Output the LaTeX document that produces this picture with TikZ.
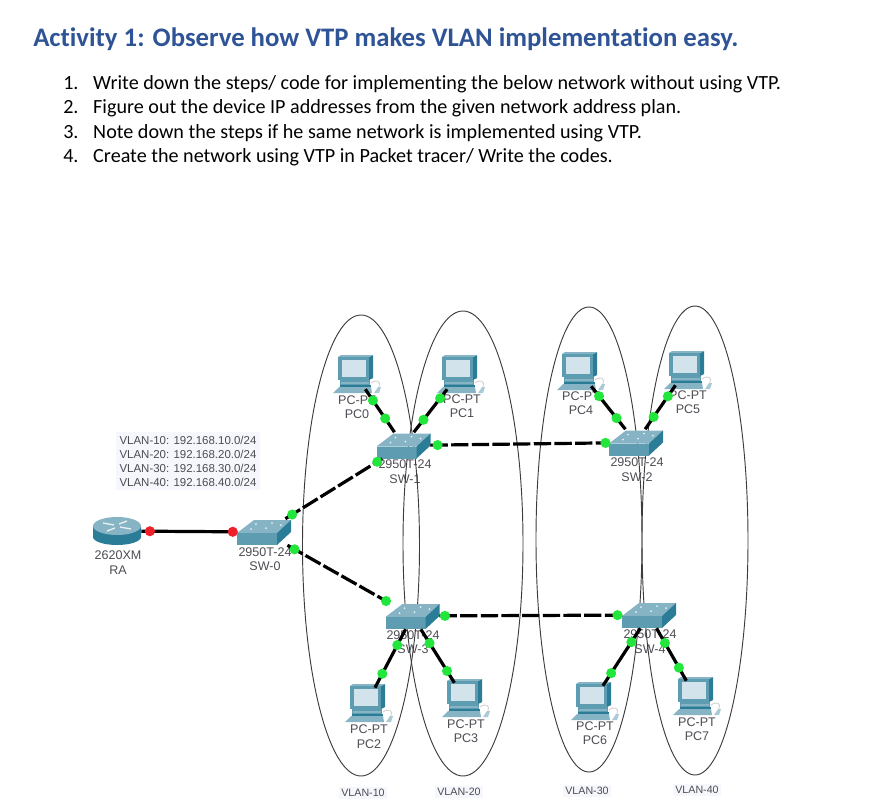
\documentclass[tikz,border=0pt]{standalone}
\usepackage{fontspec}
\setmainfont{Carlito}[Ligatures=CommonOff]
\newfontfamily\ptfont{Liberation Sans}
\usetikzlibrary{arrows.meta}
\definecolor{headblue}{HTML}{2F5496}
\definecolor{ptgray}{HTML}{4C4C54}
\definecolor{ringgray}{HTML}{3C3C3C}
\definecolor{notebg}{HTML}{F5F7FC}
\definecolor{portgreen}{HTML}{22E63C}
\definecolor{portred}{HTML}{F0202A}
\definecolor{tealdark}{HTML}{2B7C96}
\definecolor{tealmid}{HTML}{5E9CB1}
\definecolor{teallight}{HTML}{86B4C4}
\definecolor{screenblue}{HTML}{D3E3EB}
\tikzset{%
  % Specifications for style of nodes:
        titletext/.style = {anchor=base west, inner sep=0pt, text=headblue,
                            font=\fontsize{20.05}{24}\selectfont\bfseries},
         itemtext/.style = {anchor=base west, inner sep=0pt, text=black,
                            font=\fontsize{15.1}{18}\selectfont},
           pcnode/.style = {rectangle, inner sep=0pt,
                            minimum width=35pt, minimum height=22.5pt},
       switchnode/.style = {rectangle, inner sep=0pt,
                            minimum width=40pt, minimum height=19.5pt},
       routernode/.style = {rectangle, inner sep=0pt,
                            minimum width=36pt, minimum height=21pt},
          devtext/.style = {inner sep=0pt, align=center, text=ptgray,
                            font=\ptfont\fontsize{9.4}{10.9}\selectfont},
         notetext/.style = {inner xsep=3pt, inner ysep=3pt, align=left,
                            fill=notebg, text=ptgray,
                            font=\ptfont\fontsize{8.6}{10.5}\selectfont},
         vlantext/.style = {inner sep=2pt, fill=notebg, text=ptgray,
                            font=\ptfont\fontsize{8}{10}\selectfont},
         vlanring/.style = {draw=ringgray, line width=0.7pt},
            cable/.style = {draw=black, line width=2.4pt},
      trunkcable/.style = {cable, dash pattern=on 13pt off 2.5pt},
         portbase/.style = {circle, inner sep=0pt, minimum size=7.6pt},
             port/.style = {portbase, fill=portgreen},
          redport/.style = {portbase, fill=portred},
  pcicon/.pic = {
    \fill[tealdark] (14,-17) -- (18,-19) -- (18,4) -- (14,6) -- cycle;
    \fill[teallight] (-17,-17) -- (-14,-19) -- (18,-19) -- (14,-17) -- cycle;
    \fill[tealmid] (-17,-17) rectangle (14,6);
    \fill[screenblue] (-13,-14) rectangle (11,3);
    \fill[tealmid] (-15,6) rectangle (15,13);
    \fill[teallight] (-14,8) rectangle (14,10);
    \fill[tealdark] (-15,11) rectangle (16,13);
    \fill[teallight] (-22,19) -- (-16,13) -- (16,13) -- (17,19) -- cycle;
    \draw[gray!40, line width=0.6pt] (16,9) .. controls (22,5) and (26,7) .. (24,13);
    \fill[teallight!70] (19,19) -- (23,13) -- (26,13) -- (24,19) -- cycle;
  },
  switchicon/.pic = {
    \fill[teallight] (-27,1) -- (-10,-12) -- (27,-12) -- (13,1) -- cycle;
    \fill[tealmid] (-27,1) rectangle (13,13);
    \fill[tealdark] (13,1) -- (27,-12) -- (27,0) -- (13,13) -- cycle;
    \fill[white!80!teallight] (-8,-8) circle (1) (8,-9) circle (1) (17,-7) circle (1)
                              (-13,-3) circle (1) (2,-4) circle (1);
  },
  routericon/.pic = {
    \shade[left color=tealdark, middle color=teallight!60, right color=tealdark]
      (-24,-5) -- (-24,6) arc [start angle=180, end angle=0,
      x radius=24, y radius=8] -- (24,-5) -- cycle;
    \fill[teallight] (0,-5) ellipse [x radius=24, y radius=9];
    \draw[white!80!teallight, line width=1pt] (-14,-8) -- (-3,-6) (3,-4) -- (14,-2)
                                              (-10,0) -- (-2,-3) (2,-7) -- (10,-10);
  },
}
\begin{document}
\begin{tikzpicture}[x=0.75pt, y=-0.75pt]
  \useasboundingbox (0,0) rectangle (876,807);
  % Heading and the list of tasks
  \node (title) [titletext] at (33,46)
    {Activity 1: Observe how VTP makes VLAN implementation easy.};
  \node (item1) [itemtext] at (63,89)
    {\makebox[22.5pt][l]{1.}Write down the steps/ code for implementing the below network without using VTP.};
  \node (item2) [itemtext] at (63,113)
    {\makebox[22.5pt][l]{2.}Figure out the device IP addresses from the given network address plan.};
  \node (item3) [itemtext] at (63,138)
    {\makebox[22.5pt][l]{3.}Note down the steps if he same network is implemented using VTP.};
  \node (item4) [itemtext] at (63,162)
    {\makebox[22.5pt][l]{4.}Create the network using VTP in Packet tracer/ Write the codes.};
  % Specification of devices
  \node (ra)  [routernode] at (117,531) {};
  \node (sw0) [switchnode] at (264,532) {};
  \node (sw1) [switchnode] at (403.5,445.5) {};
  \node (sw2) [switchnode] at (636,442.5) {};
  \node (sw3) [switchnode] at (412.5,616) {};
  \node (sw4) [switchnode] at (649,615) {};
  \node (pc0) [pcnode] at (355,374) {};
  \node (pc1) [pcnode] at (459,374) {};
  \node (pc4) [pcnode] at (579,371) {};
  \node (pc5) [pcnode] at (686,370) {};
  \node (pc2) [pcnode] at (367,703) {};
  \node (pc3) [pcnode] at (464,698) {};
  \node (pc6) [pcnode] at (593,701) {};
  \node (pc7) [pcnode] at (695,696) {};
  % Labels of devices
  \node (raText)  [devtext] at (118,562.5) {2620XM\\RA};
  \node (sw0Text) [devtext] at (265,559) {2950T-24\\SW-0};
  \node (sw1Text) [devtext] at (405,471.5) {2950T-24\\SW-1};
  \node (sw2Text) [devtext] at (637,469.5) {2950T-24\\SW-2};
  \node (sw3Text) [devtext] at (413,642) {2950T-24\\SW-3};
  \node (sw4Text) [devtext] at (650,641.5) {2950T-24\\SW-4};
  \node (pc0Text) [devtext] at (357,407) {PC-PT\\PC0};
  \node (pc1Text) [devtext] at (462,406) {PC-PT\\PC1};
  \node (pc4Text) [devtext] at (581,403) {PC-PT\\PC4};
  \node (pc5Text) [devtext] at (688,402) {PC-PT\\PC5};
  \node (pc2Text) [devtext] at (369,736.5) {PC-PT\\PC2};
  \node (pc3Text) [devtext] at (466,731) {PC-PT\\PC3};
  \node (pc6Text) [devtext] at (595,733) {PC-PT\\PC6};
  \node (pc7Text) [devtext] at (697,729) {PC-PT\\PC7};
  \node (plan) [notetext] at (188,461)
    {VLAN-10: 192.168.10.0/24\\VLAN-20: 192.168.20.0/24\\
     VLAN-30: 192.168.30.0/24\\VLAN-40: 192.168.40.0/24};
  \node (vlan10) [vlantext] at (363,793) {VLAN-10};
  \node (vlan20) [vlantext] at (459,792) {VLAN-20};
  \node (vlan30) [vlantext] at (587,791) {VLAN-30};
  \node (vlan40) [vlantext] at (697,790) {VLAN-40};
  % The four VLAN rings
  \draw[vlanring] (361,545.5) ellipse [x radius=58.5, y radius=230.5];
  \draw[vlanring] (463,543.5) ellipse [x radius=60, y radius=232.5];
  \draw[vlanring] (589,539.5) ellipse [x radius=53, y radius=232.5];
  \draw[vlanring] (695,540.5) ellipse [x radius=53, y radius=234.5];
  % Icons on top of the rings
  \pic at (ra)  {routericon};
  \pic at (sw0) {switchicon};
  \pic at (sw1) {switchicon};
  \pic at (sw2) {switchicon};
  \pic at (sw3) {switchicon};
  \pic at (sw4) {switchicon};
  \pic at (pc0) {pcicon};
  \pic at (pc1) {pcicon};
  \pic at (pc4) {pcicon};
  \pic at (pc5) {pcicon};
  \pic at (pc2) {pcicon};
  \pic at (pc3) {pcicon};
  \pic at (pc6) {pcicon};
  \pic at (pc7) {pcicon};
  % Specification of lines between nodes specified above
  \draw[cable] (ra) -- node[redport, pos=.09] (raPort) {}
                       node[redport, pos=.955] (sw0Port) {} (sw0);
  \draw[trunkcable] (sw0) -- node[port, pos=.07] (sw0PortA) {}
                             node[port, pos=.95] (sw1PortA) {} (sw1);
  \draw[trunkcable] (sw0) -- node[port, pos=.07] (sw0PortB) {}
                             node[port, pos=.97] (sw3PortA) {} (sw3);
  \draw[trunkcable] (sw1) -- node[port, pos=.04] (sw1PortB) {}
                             node[port, pos=.98] (sw2PortA) {} (sw2);
  \draw[trunkcable] (sw3) -- node[port, pos=.03] (sw3PortB) {}
                             node[port, pos=.975] (sw4PortA) {} (sw4);
  \draw[cable] (pc0) -- node[port, pos=.26] (pc0Port) {}
                        node[port, pos=.68] (sw1Port0) {} (sw1);
  \draw[cable] (pc1) -- node[port, pos=.21] (pc1Port) {}
                        node[port, pos=.71] (sw1Port1) {} (sw1);
  \draw[cable] (pc4) -- node[port, pos=.23] (pc4Port) {}
                        node[port, pos=.74] (sw2Port4) {} (sw2);
  \draw[cable] (pc5) -- node[port, pos=.25] (pc5Port) {}
                        node[port, pos=.72] (sw2Port5) {} (sw2);
  \draw[cable] (sw3) -- node[port, pos=.27] (sw3Port2) {}
                        node[port, pos=.76] (pc2Port) {} (pc2);
  \draw[cable] (sw3) -- node[port, pos=.26] (sw3Port3) {}
                        node[port, pos=.78] (pc3Port) {} (pc3);
  \draw[cable] (sw4) -- node[port, pos=.24] (sw4Port6) {}
                        node[port, pos=.78] (pc6Port) {} (pc6);
  \draw[cable] (sw4) -- node[port, pos=.28] (sw4Port7) {}
                        node[port, pos=.75] (pc7Port) {} (pc7);
\end{tikzpicture}
\end{document}
